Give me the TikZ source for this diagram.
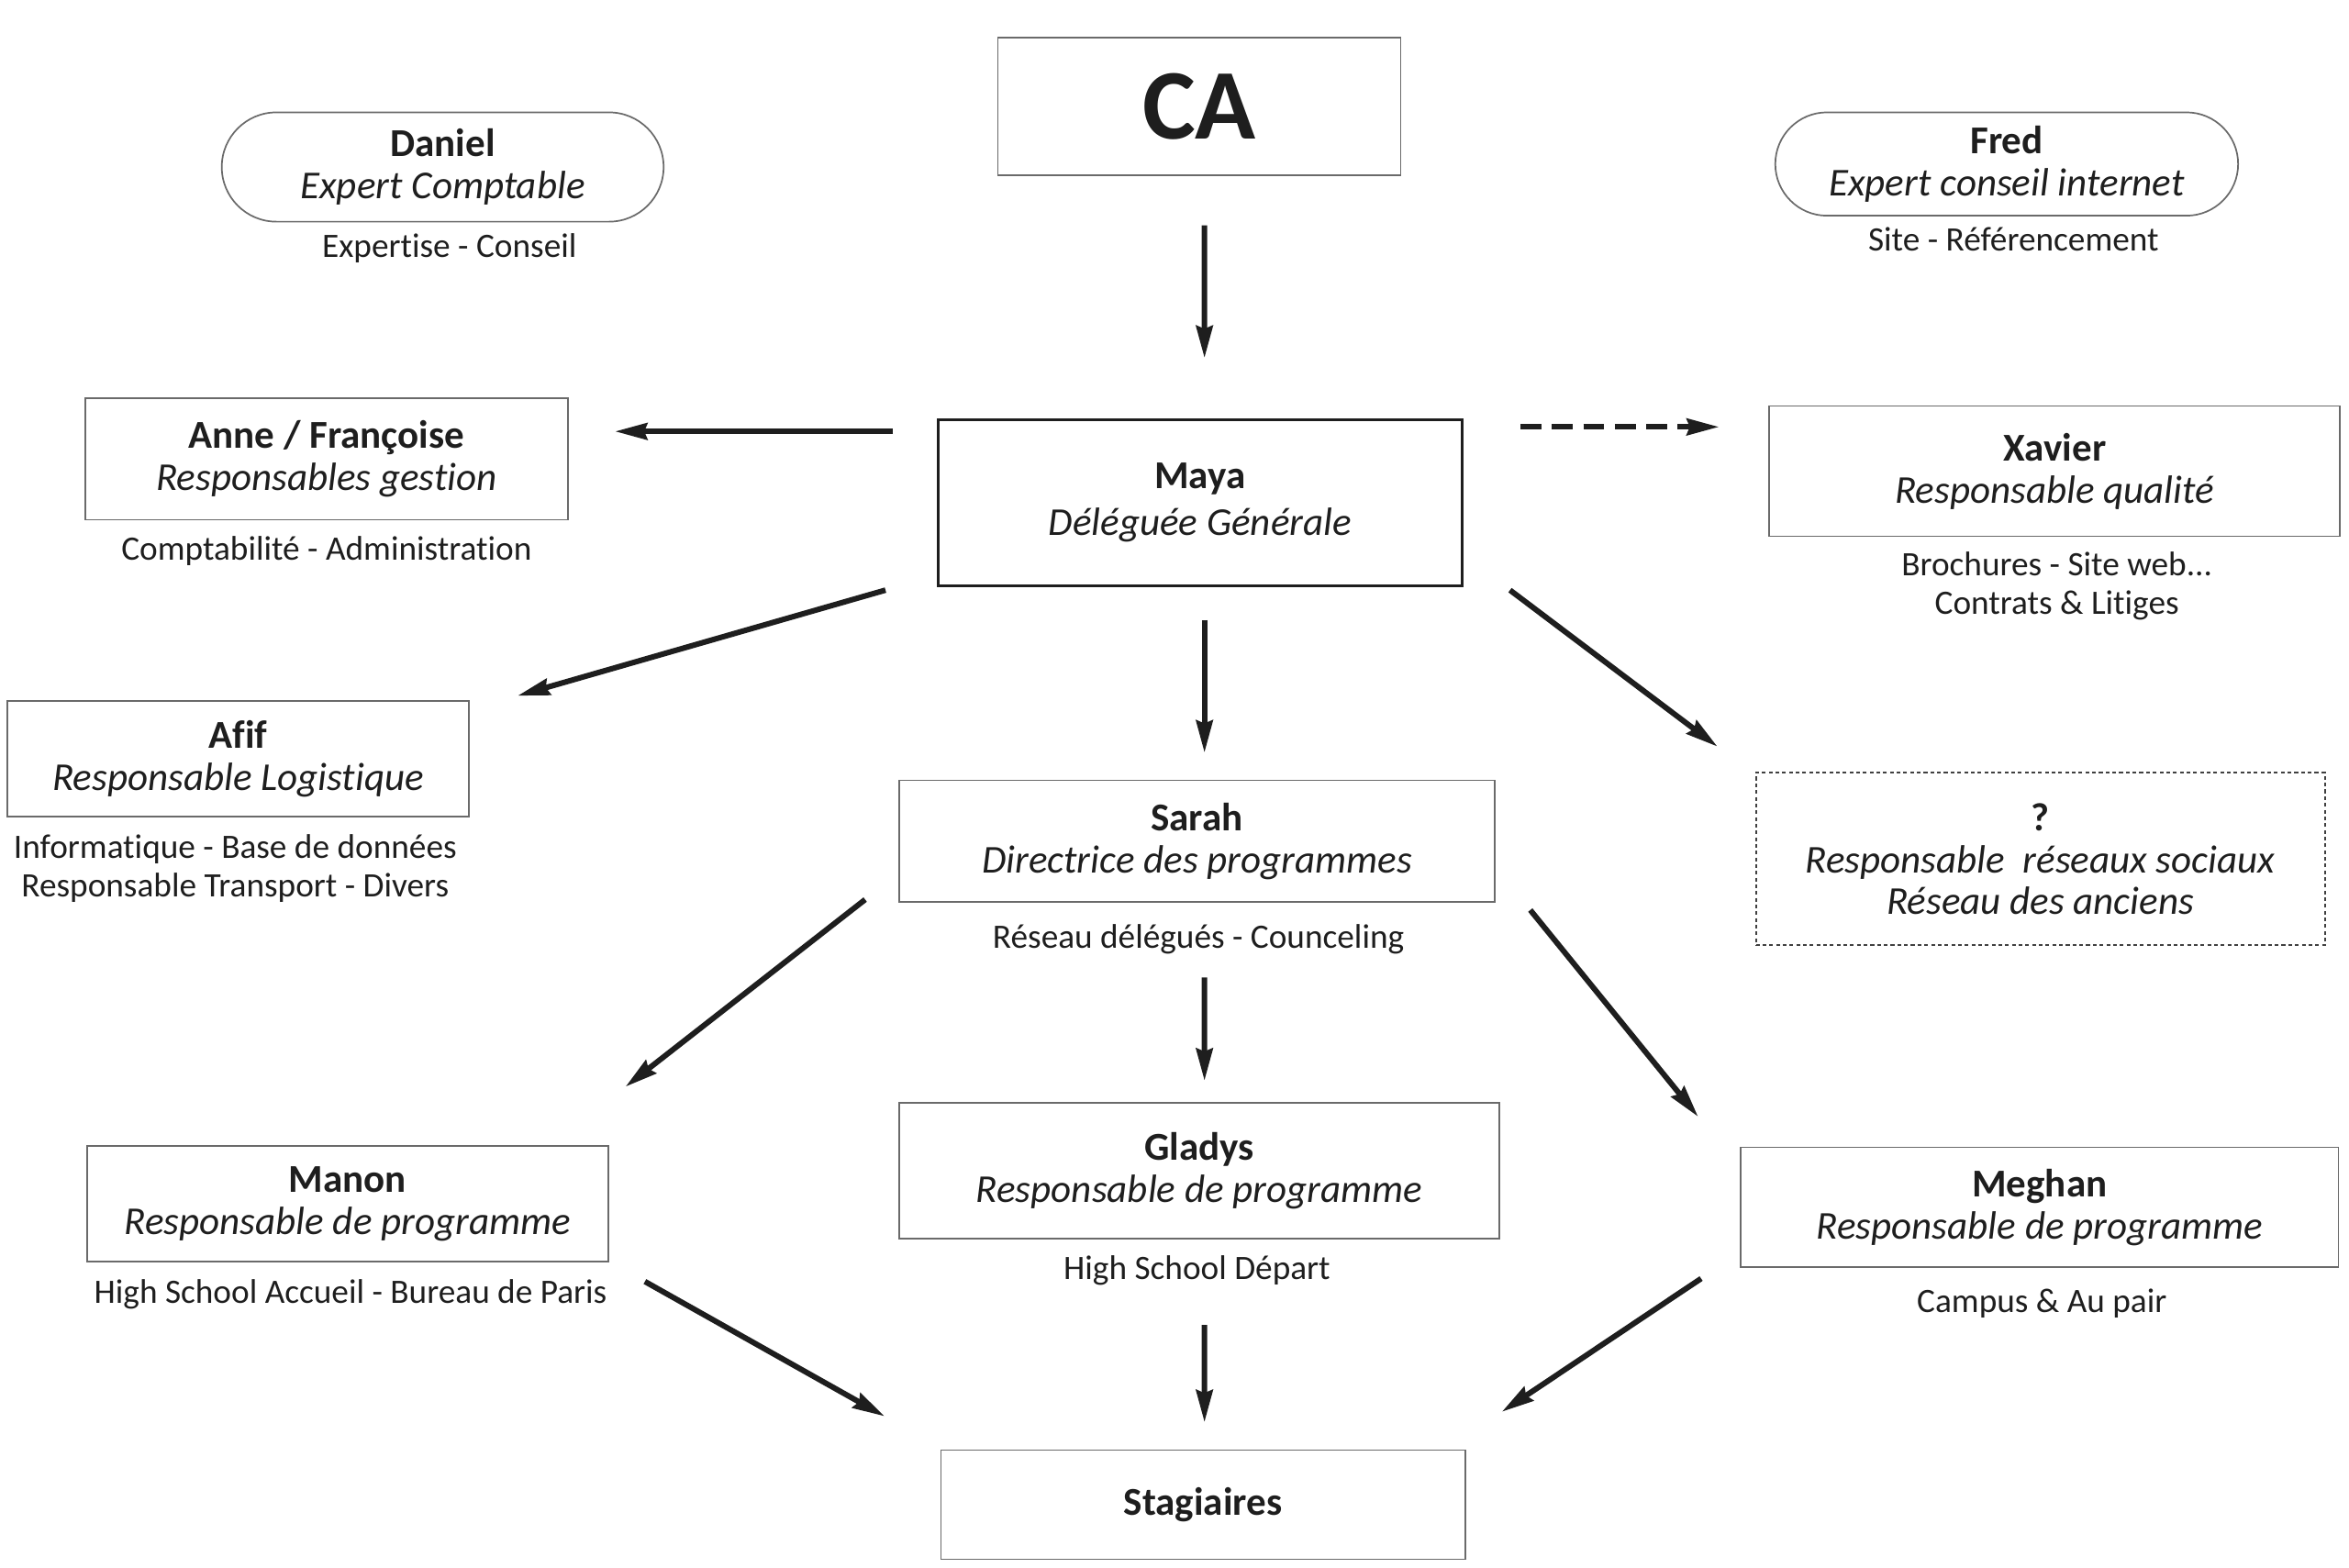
\documentclass[tikz,border=0pt]{standalone}
\usepackage{fontspec}
\setmainfont{Carlito}[Ligatures=NoCommon]
\usetikzlibrary{arrows.meta,calc}
\definecolor{ink}{HTML}{1E1E1E}
\definecolor{frame}{HTML}{6A6A6A}
\begin{document}
\begin{tikzpicture}[x=0.02cm,y=-0.02cm,
  box/.style={draw=frame, line width=0.6pt, align=center, inner sep=0pt, text=ink,
    font=\fontsize{15}{16}\selectfont},
  pill/.style={box, rounded corners=#1},
  sub/.style={text=ink, align=center, inner sep=0pt, font=\fontsize{13}{14.7}\selectfont},
  arr/.style={draw=ink, line width=2.1pt, -{Stealth[length=0.43cm,width=0.22cm,inset=0.04cm]}},
  dasharr/.style={arr, dash pattern=on 0.28cm off 0.14cm},
  qbox/.style={box, draw=ink!85, line width=0.7pt, dash pattern=on 0.05cm off 0.04cm}
]
\useasboundingbox (0,0) rectangle (1568,1046.7);

% nodes
\node[box, minimum width=5.38cm, minimum height=1.84cm, font=\fontsize{38}{40}\selectfont\bfseries] (ca) at (800.5,71) {CA};

\node[pill=0.73cm, minimum width=5.9cm, minimum height=1.46cm] (daniel) at (295.5,111.5)
  {\textbf{Daniel}\\\textit{Expert Comptable}};
\node[sub] (danielsub) at (300,166) {Expertise - Conseil};

\node[pill=0.69cm, minimum width=6.18cm, minimum height=1.38cm] (fred) at (1339.5,109.5)
  {\textbf{Fred}\\\textit{Expert conseil internet}};
\node[sub] (fredsub) at (1344,160) {Site - Référencement};

\node[box, minimum width=6.44cm, minimum height=1.62cm] (anne) at (218,306.5)
  {\textbf{Anne / Françoise}\\\textit{Responsables gestion}};
\node[sub] (annesub) at (218,368) {Comptabilité - Administration};

\node[box, draw=ink, line width=1.1pt, minimum width=7.0cm, minimum height=2.22cm,
  font=\fontsize{15}{18}\selectfont] (maya) at (801,335.5)
  {\textbf{Maya}\\\textit{Déléguée Générale}};

\node[box, minimum width=7.62cm, minimum height=1.74cm] (xavier) at (1371.5,314.5)
  {\textbf{Xavier}\\\textit{Responsable qualité}};
\node[sub] (xaviersub) at (1373,391) {Brochures - Site web...\\Contrats \& Litiges};

\node[box, minimum width=6.16cm, minimum height=1.54cm] (afif) at (159,506.5)
  {\textbf{Afif}\\\textit{Responsable Logistique}};
\node[sub] (afifsub) at (157,580) {Informatique - Base de données\\Responsable Transport - Divers};

\node[box, minimum width=7.96cm, minimum height=1.62cm] (sarah) at (799,561.5)
  {\textbf{Sarah}\\\textit{Directrice des programmes}};
\node[sub] (sarahsub) at (800,627) {Réseau délégués - Counceling};

\node[qbox, minimum width=7.6cm, minimum height=2.3cm] (q) at (1362,573.5)
  {\textbf{?}\\\textit{Responsable\ \ réseaux sociaux}\\\textit{Réseau des anciens}};

\node[box, minimum width=6.96cm, minimum height=1.54cm] (manon) at (232,803.5)
  {\textbf{Manon}\\\textit{Responsable de programme}};
\node[sub] (manonsub) at (234,864) {High School Accueil - Bureau de Paris};

\node[box, minimum width=8.02cm, minimum height=1.82cm] (gladys) at (800.5,781.5)
  {\textbf{Gladys}\\\textit{Responsable de programme}};
\node[sub] (gladyssub) at (799,848) {High School Départ};

\node[box, minimum width=7.98cm, minimum height=1.6cm] (meghan) at (1361.5,806)
  {\textbf{Meghan}\\\textit{Responsable de programme}};
\node[sub] (meghansub) at (1363,870) {Campus \& Au pair};

\node[box, minimum width=7.0cm, minimum height=1.46cm] (stag) at (803,1004.5)
  {\textbf{Stagiaires}};

% connectors
\draw[arr] ($(ca.south)+(3.5,33)$) -- ($(maya.north)+(3,-40)$);
\draw[arr] ($(maya.west)+(-29,-47.5)$) -- ($(anne.east)+(31,-18.5)$);
\draw[dasharr] ($(maya.east)+(38,-50.5)$) -- ($(xavier.west)+(-33,-29.5)$);
\draw[arr] ($(maya.south west)+(-34,2)$) -- ($(afif.north east)+(32,-3)$);
\draw[arr] ($(maya.south)+(3,22)$) -- ($(sarah.north)+(5,-18)$);
\draw[arr] ($(maya.south east)+(31,2)$) -- ($(q.north west)+(-25,-17)$);
\draw[arr] ($(sarah.south west)+(-22,-2)$) -- ($(manon.north east)+(11,-39)$);
\draw[arr] ($(sarah.south)+(5,50)$) -- ($(gladys.north)+(3.5,-14)$);
\draw[arr] ($(sarah.south east)+(23,5)$) -- ($(meghan.north west)+(-28,-20)$);
\draw[arr] ($(manon.south east)+(24,13)$) -- ($(stag.north west)+(-37,-22)$);
\draw[arr] ($(gladys.south)+(3.5,57)$) -- ($(stag.north)+(1,-18)$);
\draw[arr] ($(meghan.south west)+(-26,7)$) -- ($(stag.north east)+(24,-25)$);
\end{tikzpicture}
\end{document}
